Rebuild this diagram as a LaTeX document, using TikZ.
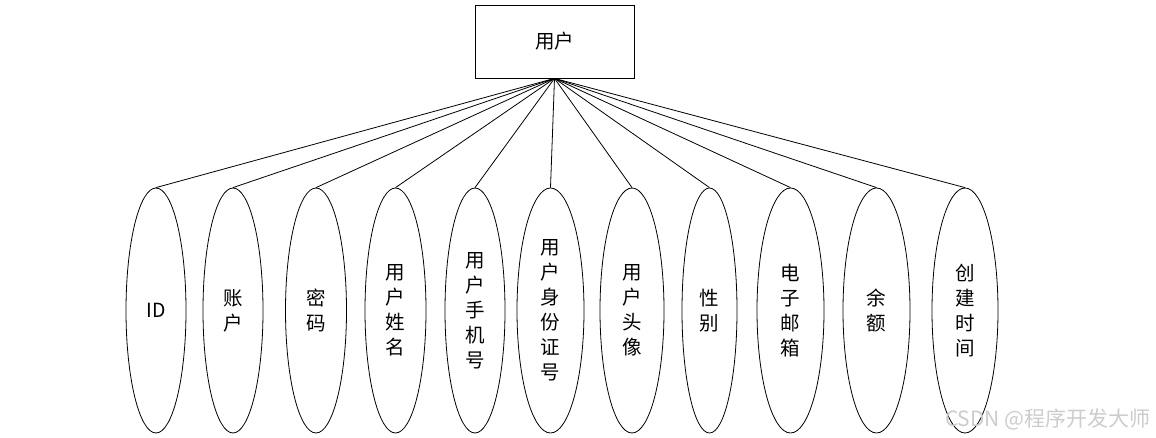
\documentclass[tikz,border=0pt]{standalone}
\usepackage{fontspec}
\setmainfont{Noto Sans CJK SC}
\usepackage{tikz}
\usetikzlibrary{shapes.geometric}
\usepackage{xcolor}

\begin{document}
\begin{tikzpicture}[x=1pt, y=-1pt, line width=0.8pt,
  entity/.style={draw, rectangle, minimum width=159pt, minimum height=73pt, inner sep=0pt, font=\fontsize{19.5}{25}\selectfont},
  attr/.style={draw, ellipse, minimum height=245pt, inner sep=0pt, align=center, font=\fontsize{19.5}{25}\selectfont}]
\useasboundingbox (0,0) rectangle (1156,438);
% entity
\node[entity] (user) at (554.5,41.5) {用户};
% attributes
\node[attr, minimum width=60pt] (id) at (156,310.5) {ID};
\node[attr, minimum width=60pt] (account) at (233,310.5) {账\\户};
\node[attr, minimum width=61pt] (pwd) at (316,310.5) {密\\码};
\node[attr, minimum width=61pt] (name) at (395.5,310.5) {用\\户\\姓\\名};
\node[attr, minimum width=60pt] (phone) at (475,310.5) {用\\户\\手\\机\\号};
\node[attr, minimum width=67pt] (idcard) at (550.5,310.5) {用\\户\\身\\份\\证\\号};
\node[attr, minimum width=64pt] (avatar) at (632,310.5) {用\\户\\头\\像};
\node[attr, minimum width=55pt] (gender) at (709.5,310.5) {性\\别};
\node[attr, minimum width=67pt] (email) at (790.5,310.5) {电\\子\\邮\\箱};
\node[attr, minimum width=67pt] (balance) at (876.5,310.5) {余\\额};
\node[attr, minimum width=66pt] (ctime) at (965,310.5) {创\\建\\时\\间};
% links
\draw (user.south) -- (id.north);
\draw (user.south) -- (account.north);
\draw (user.south) -- (pwd.north);
\draw (user.south) -- (name.north);
\draw (user.south) -- (phone.north);
\draw (user.south) -- (idcard.north);
\draw (user.south) -- (avatar.north);
\draw (user.south) -- (gender.north);
\draw (user.south) -- (email.north);
\draw (user.south) -- (balance.north);
\draw (user.south) -- (ctime.north);
% watermark
\node[gray!40, font=\fontsize{21}{21}\selectfont, anchor=east, inner sep=0pt] (mark) at (1151,419) {CSDN @程序开发大师};
\end{tikzpicture}
\end{document}
